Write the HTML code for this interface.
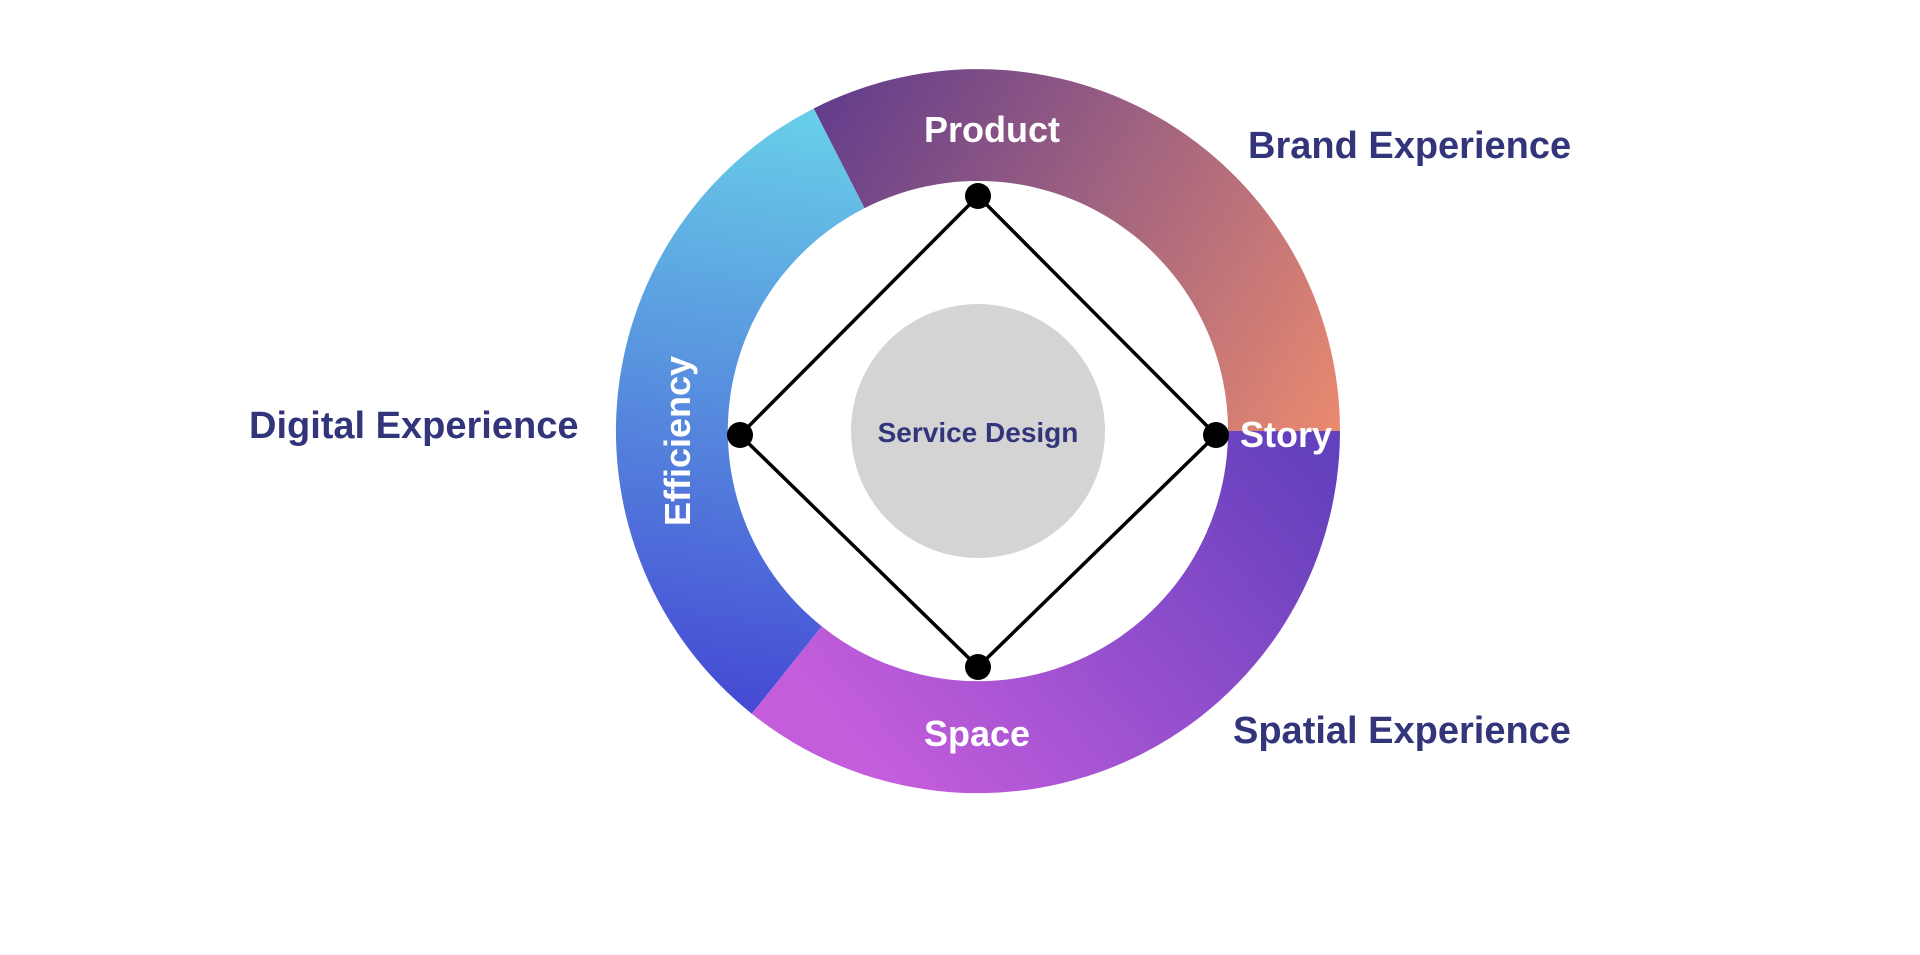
<!DOCTYPE html>
<html><head><meta charset="utf-8"><style>
html,body{margin:0;padding:0;background:#fff;}
svg{display:block;}
text{font-family:"Liberation Sans",sans-serif;font-weight:bold;}
</style></head><body>
<svg width="1920" height="955" viewBox="0 0 1920 955" xmlns="http://www.w3.org/2000/svg">
<defs>
<linearGradient id="gTop" x1="814" y1="110" x2="1340" y2="431" gradientUnits="userSpaceOnUse">
<stop offset="0" stop-color="#633c8c"/><stop offset="0.5" stop-color="#a4657f"/><stop offset="1" stop-color="#ea8a6f"/></linearGradient>
<linearGradient id="gPur" x1="1300" y1="440" x2="900" y2="790" gradientUnits="userSpaceOnUse">
<stop offset="0" stop-color="#6340bd"/><stop offset="1" stop-color="#c45ddc"/></linearGradient>
<linearGradient id="gBlue" x1="700" y1="710" x2="790" y2="110" gradientUnits="userSpaceOnUse">
<stop offset="0" stop-color="#4548d4"/><stop offset="1" stop-color="#68cfe8"/></linearGradient>
</defs>
<path d="M813.7,108.5 A362,362 0 0 1 1340,431 L1228,431 A250,250 0 0 0 864.5,208.2 Z" fill="url(#gTop)"/>
<path d="M1340,431 A362,362 0 0 1 751.7,713.7 L821.7,626.3 A250,250 0 0 0 1228,431 Z" fill="url(#gPur)"/>
<path d="M751.7,713.7 A362,362 0 0 1 813.7,108.5 L864.5,208.2 A250,250 0 0 0 821.7,626.3 Z" fill="url(#gBlue)"/>
<circle cx="978" cy="431" r="127" fill="#d4d4d4"/>
<polygon points="978,196 1216,435 978,667 740,435" fill="none" stroke="#000" stroke-width="3.5"/>
<circle cx="978" cy="196" r="13" fill="#000"/>
<circle cx="1216" cy="435" r="13" fill="#000"/>
<circle cx="978" cy="667" r="13" fill="#000"/>
<circle cx="740" cy="435" r="13" fill="#000"/>
<text x="978" y="442" font-size="28" fill="#33357a" text-anchor="middle">Service Design</text>
<text x="992" y="142" font-size="36" fill="#fff" text-anchor="middle">Product</text>
<text x="1240" y="447" font-size="36" fill="#fff">Story</text>
<text x="977" y="746" font-size="36" fill="#fff" text-anchor="middle">Space</text>
<text transform="translate(690,441) rotate(-90)" font-size="36" fill="#fff" text-anchor="middle">Efficiency</text>
<text x="1248" y="158" font-size="38" fill="#33357a">Brand Experience</text>
<text x="249" y="438" font-size="38" fill="#33357a">Digital Experience</text>
<text x="1233" y="743" font-size="38" fill="#33357a">Spatial Experience</text>
</svg>
</body></html>
